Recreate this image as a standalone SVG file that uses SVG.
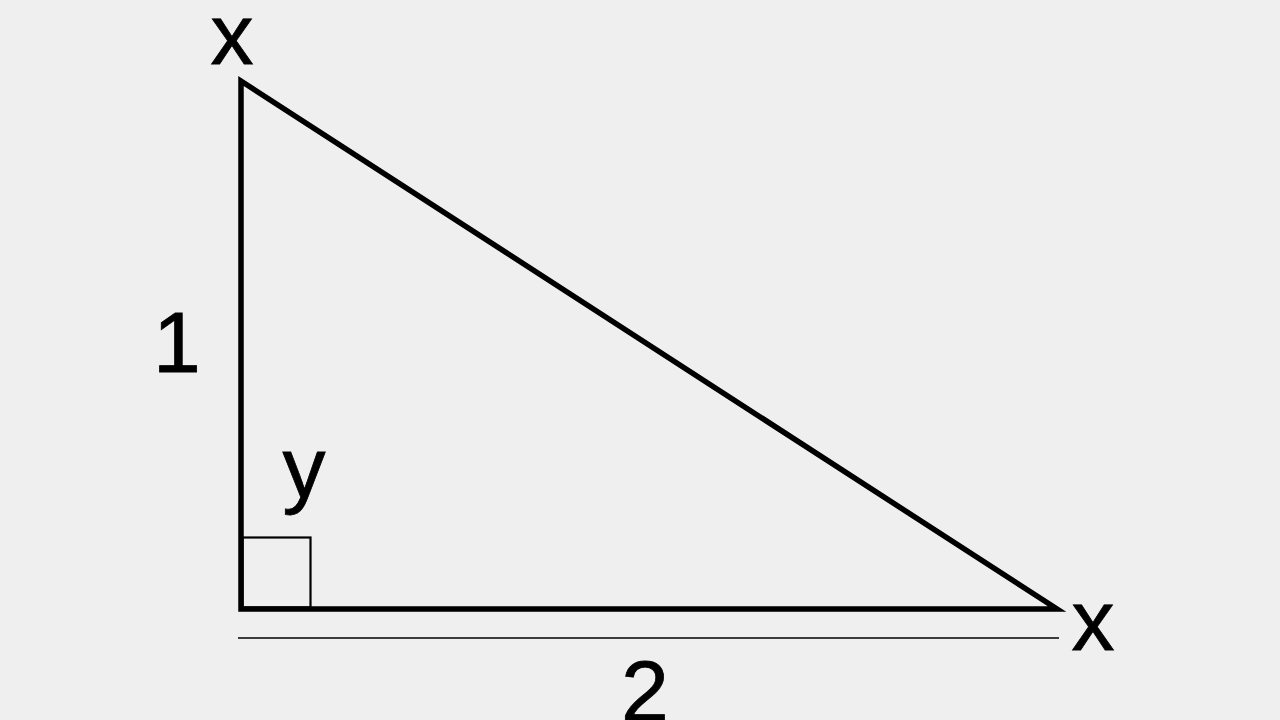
<svg xmlns="http://www.w3.org/2000/svg" width="1280" height="720" viewBox="0 0 1280 720">
<style>
.lbl{font-family:"Liberation Sans",Arial,sans-serif;font-size:86px;fill:#000;text-anchor:middle;stroke:#000;stroke-width:0.8}
.edge{fill:none;stroke:#000;stroke-width:5.5;stroke-linejoin:miter}
</style>
<rect width="1280" height="720" fill="#efefef"/>
<g id="triangle">
<path class="edge" d="M241 81 L241 609 L1057 609 Z"/>
</g>
<g id="right-angle">
<rect x="242.5" y="537.5" width="68" height="70" fill="none" stroke="#000" stroke-width="2.2"/>
</g>
<g id="connectors">
<line x1="238" y1="638" x2="1059" y2="638" stroke="#000" stroke-width="1.6"/>
</g>
<g id="labels">
<text class="lbl" x="232" y="64">x</text>
<text class="lbl" x="177" y="372">1</text>
<text class="lbl" x="304" y="497">y</text>
<text class="lbl" x="1093" y="650">x</text>
<text class="lbl" x="645" y="721">2</text>
</g>
</svg>
